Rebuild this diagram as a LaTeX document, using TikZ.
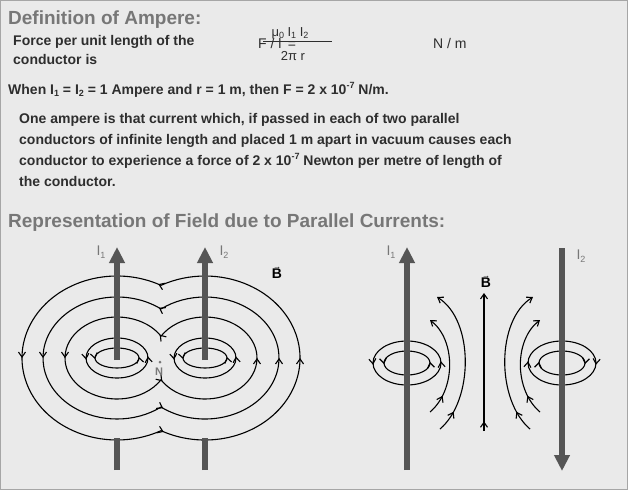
\documentclass[tikz,border=0pt]{standalone}
\usepackage{fontspec}
\setmainfont{Liberation Sans}
\usetikzlibrary{arrows.meta,decorations.markings,calc}
\definecolor{bg}{HTML}{EAEAEA}
\definecolor{txt}{HTML}{2E2E2E}
\definecolor{head}{HTML}{777777}
\definecolor{cond}{HTML}{555555}
\newcommand{\sbs}[1]{\raisebox{-0.35ex}{\fontsize{9}{9}\selectfont #1}}
\newcommand{\sps}[1]{\raisebox{0.75ex}{\fontsize{9}{9}\selectfont #1}}
\newcommand{\vecB}{\shortstack{{\fontsize{8}{8}\selectfont →}\\[-3pt]\textbf{B}}}
\tikzset{
  body/.style={anchor=base west,inner sep=0pt,text=txt,font=\fontsize{14}{16}\selectfont\bfseries},
  heading/.style={anchor=base west,inner sep=0pt,text=head,font=\fontsize{19}{22}\selectfont\bfseries},
  lbl/.style={inner sep=0pt,text=head,font=\fontsize{14}{16}\selectfont},
  field/.style={line width=1.1pt,black},
  conductor/.style={line width=5.5pt,cond},
  condarrow/.style={line width=5.5pt,cond,-{Triangle[length=16pt,width=15pt]}},
  tip/.style={-{Straight Barb[length=5pt,width=7pt]}},
  mk/.style={postaction={decorate},decoration={markings,#1}},
}
\begin{document}
\begin{tikzpicture}[x=1pt,y=1pt]
\fill[bg] (0,0) rectangle (628,-490);
\draw[gray!70,line width=1pt] (0.5,-0.5) rectangle (627.5,-489.5);
\useasboundingbox (0,0) rectangle (628,-490);
% texts
\node[heading] (t1) at (8,-24) {Definition of Ampere:};
\node[body] (t2) at (13,-45) {Force per unit length of the};
\node[body] (t3) at (13,-64) {conductor is};
\node[body,font=\fontsize{14}{16}\selectfont] (t4) at (258,-48) {F / l \,=};
\node[anchor=base,inner sep=0pt,text=txt,font=\fontsize{13}{15}\selectfont] (num) at (290,-36) {μ\sbs{0} I\sbs{1} I\sbs{2}};
\draw[txt,line width=0.8pt] (263,-41) -- (332,-41);
\node[anchor=base,inner sep=0pt,text=txt,font=\fontsize{13}{15}\selectfont] (den) at (293,-60) {2π r};
\node[body,font=\fontsize{14}{16}\selectfont] (t5) at (433,-48) {N / m};
\node[body] (t6) at (8,-94) {When I\sbs{1} = I\sbs{2} = 1 Ampere and r = 1 m, then F = 2 x 10\sps{-7} N/m.};
\node[body] (p1) at (19,-123) {One ampere is that current which, if passed in each of two parallel};
\node[body] (p2) at (19,-144) {conductors of infinite length and placed 1 m apart in vacuum causes each};
\node[body] (p3) at (19,-165) {conductor to experience a force of 2 x 10\sps{-7} Newton per metre of length of};
\node[body] (p4) at (19,-186) {the conductor.};
\node[heading] (t7) at (8,-227) {Representation of Field due to Parallel Currents:};
% ===== left diagram =====
\foreach \rx/\ry/\th in {95/82/62.4, 74/61/53.5, 52/41/32.2}{
  \draw[field,mk={mark=at position 0.004 with {\arrow{Straight Barb[length=5pt,width=7pt]}},
                  mark=at position 0.25 with {\arrow{Straight Barb[length=5pt,width=7pt]}},
                  mark=at position 0.504 with {\arrow{Straight Barb[length=5pt,width=7pt]}},
                  mark=at position 0.75 with {\arrow{Straight Barb[length=5pt,width=7pt]}}}]
    ($(117,-358)+(\th:\rx pt and \ry pt)$) arc[start angle=\th,end angle=360-\th,x radius=\rx,y radius=\ry]
    arc[start angle=180+\th,end angle=540-\th,x radius=\rx,y radius=\ry];
}
\foreach \cx in {117,205}{
  \foreach \rx/\ry in {31/20,22/10}{
    \draw[field,mk={mark=at position 0.01 with {\arrow{Straight Barb[length=5pt,width=7pt]}},
                    mark=at position 0.51 with {\arrow{Straight Barb[length=5pt,width=7pt]}}}]
      (\cx+\rx,-358) arc[start angle=0,end angle=360,x radius=\rx,y radius=\ry];
  }
}
\coordinate (a1s) at (117,-360); \coordinate (a1e) at (117,-247);
\coordinate (a2s) at (205,-360); \coordinate (a2e) at (205,-247);
\coordinate (b1s) at (117,-470); \coordinate (b1e) at (117,-438);
\coordinate (b2s) at (205,-470); \coordinate (b2e) at (205,-438);
\draw[condarrow] (a1s) -- (a1e);
\draw[condarrow] (a2s) -- (a2e);
\draw[conductor] (b1s) -- (b1e);
\draw[conductor] (b2s) -- (b2e);
\node[lbl] (li1) at (101,-252) {I\sbs{1}};
\node[lbl] (li2) at (224,-252) {I\sbs{2}};
\node[inner sep=0pt,font=\fontsize{14}{16}\selectfont] (lB) at (277,-273) {\vecB};
\fill[head] (160,-362) circle (1.5pt);
\node[lbl,font=\fontsize{11}{13}\selectfont\bfseries] (lN) at (159,-372) {N};
% ===== right diagram =====
\foreach \rx/\ry in {34/22,23/12}{
  \draw[field,mk={mark=at position 0.01 with {\arrow{Straight Barb[length=5pt,width=7pt]}},
                  mark=at position 0.51 with {\arrow{Straight Barb[length=5pt,width=7pt]}}}]
    (407+\rx,-363) arc[start angle=0,end angle=360,x radius=\rx,y radius=\ry];
  \draw[field,mk={mark=at position 0.01 with {\arrow{Straight Barb[length=5pt,width=7pt]}},
                  mark=at position 0.51 with {\arrow{Straight Barb[length=5pt,width=7pt]}}}]
    (562+\rx,-363) arc[start angle=360,end angle=0,x radius=\rx,y radius=\ry];
}
\coordinate (c1s) at (407,-470); \coordinate (c1e) at (407,-247);
\coordinate (c2s) at (562,-248); \coordinate (c2e) at (562,-471);
\draw[condarrow] (c1s) -- (c1e);
\draw[condarrow] (c2s) -- (c2e);
\node[lbl] (ri1) at (391,-252) {I\sbs{1}};
\node[lbl] (ri2) at (581,-256) {I\sbs{2}};
\coordinate (ms) at (484,-431); \coordinate (me) at (484,-293);
\draw[field,tip,mk={mark=at position 0.07 with {\arrow{Straight Barb[length=5pt,width=7pt]}}}] (ms) -- (me);
\node[inner sep=0pt,font=\fontsize{14}{16}\selectfont] (rB) at (486,-282) {\vecB};
\draw[field,tip,mk={mark=at position 0.15 with {\arrow{Straight Barb[length=5pt,width=7pt]}}}]
  (440,-429) .. controls (474,-400) and (474,-320) .. (437,-297);
\draw[field,tip,mk={mark=at position 0.2 with {\arrow{Straight Barb[length=5pt,width=7pt]}}}]
  (430,-412) .. controls (456,-390) and (456,-340) .. (430,-320);
\draw[field,tip,mk={mark=at position 0.15 with {\arrow{Straight Barb[length=5pt,width=7pt]}}}]
  (530,-429) .. controls (496,-400) and (496,-320) .. (533,-297);
\draw[field,tip,mk={mark=at position 0.2 with {\arrow{Straight Barb[length=5pt,width=7pt]}}}]
  (540,-412) .. controls (514,-390) and (514,-340) .. (540,-320);
\end{tikzpicture}
\end{document}
